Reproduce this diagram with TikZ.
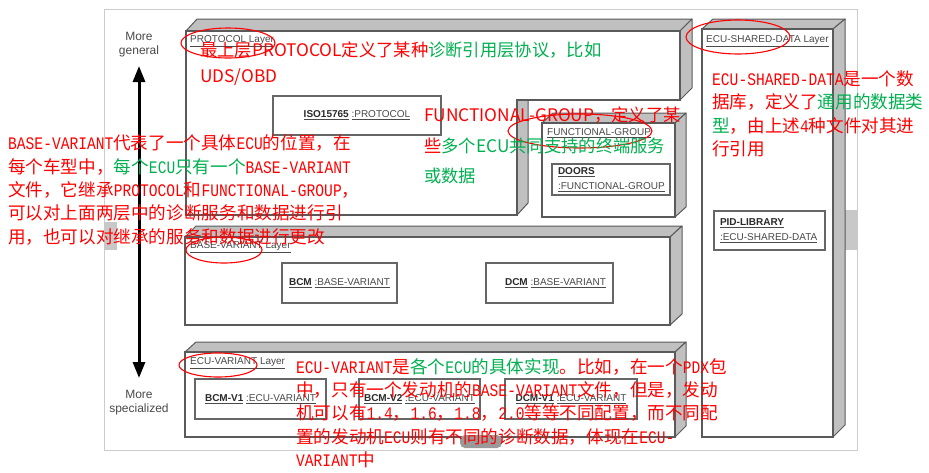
\documentclass[tikz,border=0pt]{standalone}
\usepackage{fontspec}
\setmainfont{Liberation Sans}
\newfontfamily\cjk{Noto Sans CJK SC}
\newfontfamily\latm[FakeStretch=0.83]{Liberation Mono}
\usetikzlibrary{arrows.meta}
\definecolor{ared}{HTML}{FF0000}
\definecolor{agrn}{HTML}{00B050}
\definecolor{sidegray}{HTML}{C0C0C0}
\definecolor{edgegray}{HTML}{5A5A5A}
\definecolor{boxgray}{HTML}{666666}
\definecolor{labgray}{HTML}{4A4A4A}
\definecolor{namegray}{HTML}{2A2A2A}
\definecolor{framegray}{HTML}{CCCCCC}
\definecolor{tabgray}{HTML}{C8C8C8}
\definecolor{pillgray}{HTML}{9A9A9A}
\newcommand\rdt[1]{\textcolor{ared}{#1}}
\newcommand\gnt[1]{\textcolor{agrn}{#1}}
\newcommand\latr[1]{{\latm #1}}
\newcommand\uln[1]{\underline{#1}}
\newcommand\nm[1]{\uln{\textcolor{namegray}{\textbf{#1}}}}
\tikzset{
  front/.style={fill=white, draw=edgegray, line width=1.2pt},
  sideface/.style={fill=sidegray, draw=edgegray, line width=1pt, line join=round},
  inbox/.style={draw=boxgray, line width=1.2pt, fill=white, inner sep=0,
    font=\fontsize{10}{12}\selectfont, text=labgray},
  inbox2/.style={draw=boxgray, line width=1.2pt, fill=white, inner ysep=0, inner xsep=6pt,
    font=\fontsize{10}{15}\selectfont, text=labgray, align=left},
  lab/.style={font=\fontsize{10}{12}\selectfont, text=labgray, inner sep=0, anchor=west},
  more/.style={font=\fontsize{12}{14}\selectfont, text=labgray, align=center, inner sep=0},
  bigarrow/.style={line width=3pt, {Triangle[length=16pt,width=12pt]}-{Triangle[length=16pt,width=12pt]}},
  redloop/.style={draw=ared, line width=1.1pt},
  anna/.style={inner sep=0, anchor=base west, font=\cjk\fontsize{17.3}{20}\selectfont},
  annb/.style={inner sep=0, anchor=base west, font=\cjk\fontsize{17.6}{20}\selectfont},
}
\begin{document}
\begin{tikzpicture}[x=1pt,y=-1pt]
\useasboundingbox (0,0) rectangle (929,472);
\fill[white] (0,0) rectangle (929,472);
\draw[framegray, line width=1pt] (104,9) rectangle (857,450);
\fill[tabgray] (104,222) rectangle (117,250);
\fill[tabgray] (844,210) rectangle (858,250);

% axis
\node[more] (gen) at (139,45) {More\\general};
\node[more] (spec) at (139,402.5) {More\\specialized};
\coordinate (atop) at (139,66);
\coordinate (abot) at (139,378);
\draw[bigarrow] (atop) -- (abot);

% PROTOCOL layer
\draw[sideface] (186,31) -- (197,19) -- (692,19) -- (680,31) -- cycle;
\draw[sideface] (680,31) -- (692,19) -- (692,88) -- (680,100) -- cycle;
\draw[sideface] (517,100) -- (528,100) -- (528,203) -- (517,215) -- cycle;
\draw[front] (186,31) -- (680,31) -- (680,100) -- (517,100) -- (517,215) -- (186,215) -- cycle;

% FUNCTIONAL-GROUP
\draw[sideface] (542,123) -- (553,113) -- (686,113) -- (675,123) -- cycle;
\draw[sideface] (675,123) -- (686,113) -- (686,207) -- (675,217) -- cycle;
\draw[front] (542,123) rectangle (675,217);

% ECU-SHARED-DATA
\draw[sideface] (702,29) -- (713,19) -- (845,19) -- (833,29) -- cycle;
\draw[sideface] (833,29) -- (845,19) -- (845,425) -- (833,437) -- cycle;
\draw[front] (702,29) rectangle (833,437);

% BASE-VARIANT
\draw[sideface] (185,237) -- (196,226) -- (682,226) -- (670,237) -- cycle;
\draw[sideface] (670,237) -- (682,226) -- (682,314) -- (670,325) -- cycle;
\draw[front] (185,237) rectangle (670,325);

% ECU-VARIANT
\draw[sideface] (185,352) -- (196,342) -- (686,342) -- (675,352) -- cycle;
\draw[sideface] (675,352) -- (686,342) -- (686,426) -- (675,437) -- cycle;
\draw[front] (185,352) rectangle (675,437);

% layer labels
\node[lab] (lprot) at (190,41) {\uln{PROTOCOL Layer}};
\node[lab] (lesd) at (706,41) {\uln{ECU-SHARED-DATA Layer}};
\node[lab] (lfg) at (547,133) {\uln{FUNCTIONAL-GROUP}};
\node[lab] (lbv) at (190,247) {\uln{BASE-VARIANT Layer}};
\node[lab] (lev) at (190,363) {\uln{ECU-VARIANT Layer}};

% inner boxes
\node[inbox, minimum width=168pt, minimum height=39pt] (iso) at (357,115.5) {\nm{ISO15765} \uln{:PROTOCOL}};
\node[inbox2, text width=106pt, minimum height=31pt] (doors) at (611,179.5) {\nm{DOORS}\\\uln{:FUNCTIONAL-GROUP}};
\node[inbox2, text width=99pt, minimum height=39pt] (pid) at (769.5,230.5) {\nm{PID-LIBRARY}\\\uln{:ECU-SHARED-DATA}};
\node[inbox, minimum width=115pt, minimum height=40pt] (bcm) at (339.5,283) {\nm{BCM} \uln{:BASE-VARIANT}};
\node[inbox, minimum width=127pt, minimum height=40pt] (dcm) at (549.5,283) {\hspace{12pt}\nm{DCM} \uln{:BASE-VARIANT}};
\node[inbox, minimum width=131pt, minimum height=40pt] (bcmv1) at (260.5,399) {\nm{BCM-V1} \uln{:ECU-VARIANT}};
\node[inbox, minimum width=121pt, minimum height=40pt] (bcmv2) at (419.5,399) {\nm{BCM-V2} \uln{:ECU-VARIANT}};
\node[inbox, minimum width=132pt, minimum height=40pt] (dcmv1) at (571,399) {\nm{DCM-V1} \uln{:ECU-VARIANT}};

\fill[pillgray, rounded corners=5pt] (460,435) rectangle (502,448);

% red loops
\draw[redloop] (228,43) ellipse [x radius=47, y radius=15];
\draw[redloop] (580,131) ellipse [x radius=72, y radius=17];
\draw[redloop] (738,37) ellipse [x radius=52, y radius=17];
\draw[redloop] (224,250) ellipse [x radius=38, y radius=13];
\draw[redloop] (218,365) ellipse [x radius=39, y radius=12];

% annotation 1
\node[anna] (t1a) at (200,56.6) {\rdt{最上层PROTOCOL定义了某种}\gnt{诊断引用层协议，比如}};
\node[anna] (t1b) at (200,82.6) {\rdt{UDS/OBD}};

% annotation 2
\node[anna] (t2a) at (424,121.6) {\rdt{FUNCTIONAL-GROUP，定义了某}};
\node[anna] (t2b) at (424,152.6) {\rdt{些}\gnt{多个ECU共同支持的终端服务}};
\node[anna] (t2c) at (424,182.6) {\gnt{或数据}};

% annotation 3
\node[annb] (t3a) at (8,149.7) {\rdt{\latr{BASE-VARIANT}代表了一个具体\latr{ECU}的位置，在}};
\node[annb] (t3b) at (8,173.7) {\rdt{每个车型中，}\gnt{每个\latr{ECU}只有一个}\rdt{\latr{BASE-VARIANT}}};
\node[annb] (t3c) at (8,196.7) {\rdt{文件，它继承\latr{PROTOCOL}和\latr{FUNCTIONAL-GROUP}，}};
\node[annb] (t3d) at (8,219.7) {\rdt{可以对上面两层中的诊断服务和数据进行引}};
\node[annb] (t3e) at (8,243.7) {\rdt{用，也可以对继承的服务和数据进行更改}};

% annotation 4
\node[annb] (t4a) at (712,85.7) {\rdt{\latr{ECU-SHARED-DATA}是一个数}};
\node[annb] (t4b) at (712,108.7) {\rdt{据库，定义了}\gnt{通用的数据类}};
\node[annb] (t4c) at (712,132.7) {\gnt{型}\rdt{，由上述\latr{4}种文件对其进}};
\node[annb] (t4d) at (712,155.7) {\rdt{行引用}};

% annotation 5
\node[annb] (t5a) at (296,373.7) {\rdt{\latr{ECU-VARIANT}是}\gnt{各个\latr{ECU}的具体实现}\rdt{。比如，在一个\latr{PDX}包}};
\node[annb] (t5b) at (296,396.7) {\rdt{中，只有一个发动机的\latr{BASE-VARIANT}文件，但是，发动}};
\node[annb] (t5c) at (296,419.7) {\rdt{机可以有\latr{1.4}，\latr{1.6}，\latr{1.8}，\latr{2.0}等等不同配置，而不同配}};
\node[annb] (t5d) at (296,443.7) {\rdt{置的发动机\latr{ECU}则有不同的诊断数据，体现在\latr{ECU-}}};
\node[annb] (t5e) at (296,466.7) {\rdt{\latr{VARIANT}中}};
\end{tikzpicture}
\end{document}
